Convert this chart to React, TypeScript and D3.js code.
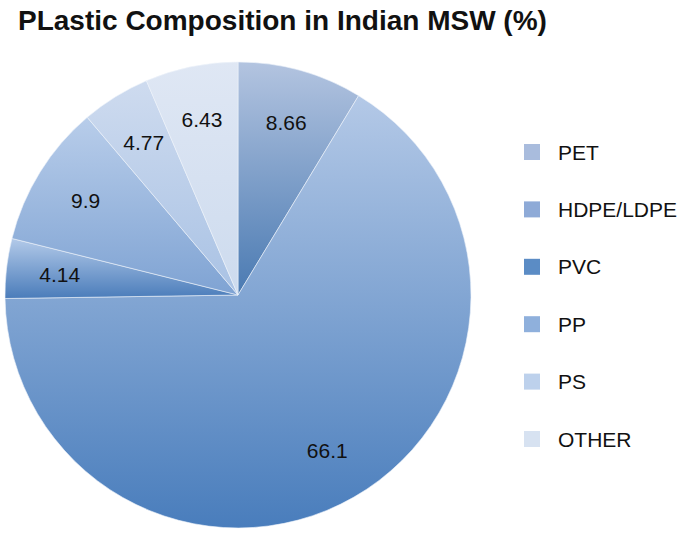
import * as d3 from "d3";

const categories = ["PET", "HDPE/LDPE", "PVC", "PP", "PS", "OTHER"];
const values = [8.66, 66.1, 4.14, 9.9, 4.77, 6.43];
const valueLabels = ["8.66", "66.1", "4.14", "9.9", "4.77", "6.43"];

// top / bottom colours of each slice gradient, and flat legend swatches
const topColors = ["#b3c4e0", "#b4c9e7", "#b3cae9", "#b8cdea", "#cedbef", "#dfe7f4"];
const bottomColors = ["#4a7ab2", "#497dbc", "#4a7cba", "#7fa3d3", "#a9c2e4", "#cddbee"];
const swatchColors = ["#a9bcdd", "#8eaad7", "#5b8cc5", "#8fb0dc", "#bdd1ec", "#d7e2f1"];

export default function App() {
  const width = 685;
  const height = 535;
  const cx = 238;
  const cy = 295;
  const r = 233;

  const slices = d3
    .pie<number>()
    .sort(null)
    .value((d) => d)(values);

  const arc = d3.arc<d3.PieArcDatum<number>>().innerRadius(0).outerRadius(r);
  const labelArc = d3
    .arc<d3.PieArcDatum<number>>()
    .innerRadius(r * 0.77)
    .outerRadius(r * 0.77);

  const legendY = d3
    .scalePoint<string>()
    .domain(categories)
    .range([152, 439]);

  return (
    <svg
      width={width}
      height={height}
      style={{ position: "absolute", left: 0, top: 0, background: "#fff" }}
      fontFamily="'Liberation Sans', Arial, sans-serif"
    >
      <defs>
        {categories.map((c, i) => (
          <linearGradient key={c} id={`g${i}`} x1="0" y1="0" x2="0" y2="1">
            <stop offset="0%" stopColor={topColors[i]} />
            <stop offset="100%" stopColor={bottomColors[i]} />
          </linearGradient>
        ))}
      </defs>

      <text x={18} y={30} fontSize={28} fontWeight="bold" fill="#111">
        PLastic Composition in Indian MSW (%)
      </text>

      <g transform={`translate(${cx},${cy})`}>
        {slices.map((s, i) => (
          <path
            key={categories[i]}
            d={arc(s) ?? ""}
            fill={`url(#g${i})`}
            stroke="#eef3fa"
            strokeWidth={0.6}
          />
        ))}
        {slices.map((s, i) => {
          const [x, y] = labelArc.centroid(s);
          return (
            <text
              key={categories[i]}
              x={x}
              y={y}
              textAnchor="middle"
              dominantBaseline="central"
              fontSize={21}
              fill="#111"
            >
              {valueLabels[i]}
            </text>
          );
        })}
      </g>

      {categories.map((c, i) => {
        const y = legendY(c) ?? 0;
        return (
          <g key={c}>
            <rect x={524} y={y - 8} width={16} height={16} fill={swatchColors[i]} />
            <text x={558} y={y} dominantBaseline="central" fontSize={21} fill="#111">
              {c}
            </text>
          </g>
        );
      })}
    </svg>
  );
}
